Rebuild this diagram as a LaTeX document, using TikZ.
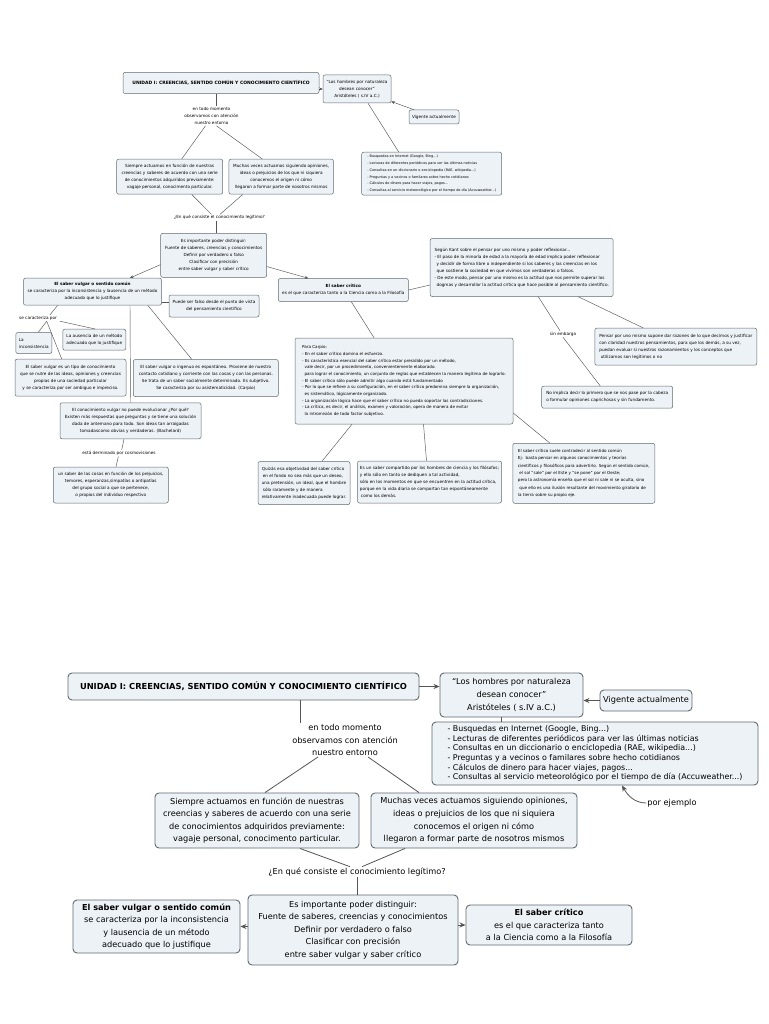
\documentclass[tikz,border=0pt]{standalone}
\usepackage{fontspec}
\setmainfont{DejaVu Sans}
\usetikzlibrary{arrows.meta,calc}
\definecolor{boxfill}{RGB}{237,242,246}
\definecolor{bord}{RGB}{96,106,114}
\definecolor{lin}{RGB}{85,85,85}
\newcommand\tfnt{\fontsize{4.2}{7}\selectfont}
\newcommand\tfntc{\fontsize{4.1}{6.7}\selectfont}
\newcommand\tfntl{\fontsize{3.45}{6.7}\selectfont}
\newcommand\tfntt{\fontsize{4.5}{5.5}\selectfont\bfseries}
\newcommand\bfnt{\fontsize{8.2}{12.6}\selectfont}
\newcommand\bfntl{\fontsize{7.9}{9.7}\selectfont}
\newcommand\bfntt{\fontsize{8.3}{10}\selectfont\bfseries}
\begin{document}
\begin{tikzpicture}[x=1pt,y=-1pt,
 tbox/.style={draw=bord, fill=boxfill, rounded corners=2pt, line width=0.5pt, inner sep=1pt, align=center, font=\tfnt},
 tlbl/.style={inner sep=1pt, align=center, font=\tfnt},
 tline/.style={draw=lin, line width=0.45pt},
 tarr/.style={tline, -{Stealth[length=3.5pt,width=3pt]}},
 bbox/.style={draw=bord, fill=boxfill, rounded corners=4pt, line width=0.9pt, inner sep=2pt, align=center, font=\bfnt},
 blbl/.style={inner sep=1pt, align=center, font=\bfnt},
 bline/.style={draw=lin, line width=0.8pt},
 barr/.style={bline, -{Stealth[length=6pt,width=5pt]}}]
\fill[white] (0,0) rectangle (768,1024);
\useasboundingbox (0,0) rectangle (768,1024);

% ================= TOP MAP =================
\node[tbox, font=\tfntt, minimum width=196pt, minimum height=21pt] (ttitle) at (221,83) {UNIDAD I: CREENCIAS, SENTIDO COMÚN Y CONOCIMIENTO CIENTÍFICO};
\node[tbox, minimum width=68pt, minimum height=28pt] (tquote) at (357,89) {“Los hombres por naturaleza\\ desean conocer”\\ Aristóteles ( s.IV a.C.)};
\node[tbox, minimum width=50pt, minimum height=14pt] (tvig) at (434,117) {Vigente actualmente};
\node[tbox, font=\tfntl, align=left, minimum width=140pt, minimum height=43pt] (tlist) at (431.7,173.7) {- Busquedas en Internet (Google, Bing...)\\ - Lecturas de diferentes periódicos para ver las últimas noticias\\ - Consultas en un diccionario o enciclopedia (RAE, wikipedia...)\\ - Preguntas y a vecinos o familares sobre hecho cotidianos\\ - Cálculos de dinero para hacer viajes, pagos...\\ - Consultas al servicio meteorológico por el tiempo de día (Accuweather...)};
\node[tlbl] (tlab) at (211.5,116) {en todo momento\\ observamos con atención\\ nuestro entorno};
\node[tbox, minimum width=106pt, minimum height=35pt] (tsiempre) at (169.7,176.7) {Siempre actuamos en función de nuestras\\ creencias y saberes de acuerdo con una serie\\ de conocimientos adquiridos previamente:\\ vagaje personal, conocimento particular.};
\node[tbox, minimum width=104.5pt, minimum height=35pt] (tmuchas) at (281.2,176.7) {Muchas veces actuamos siguiendo opiniones,\\ ideas o prejuicios de los que ni siquiera\\ conocemos el origen ni cómo\\ llegaron a formar parte de nosotros mismos};
\node[tlbl] (tq) at (219.5,217.7) {¿En qué consiste el conocimiento legítimo?};
\node[tbox, minimum width=106pt, minimum height=44pt] (timp) at (213.7,255.3) {Es importante poder distinguir:\\ Fuente de saberes, creencias y conocimientos\\ Definir por verdadero o falso\\ Clasificar con precisión\\ entre saber vulgar y saber crítico};
\node[tbox, minimum width=138pt, minimum height=27pt] (tvulgar) at (92.5,291.7) {\textbf{El saber vulgar o sentido común}\\ se caracteriza por la inconsistencia y lausencia de un método\\ adecuado que lo justifique};
\node[tbox, minimum width=130pt, minimum height=23pt] (tcritico) at (343.3,290) {\textbf{El saber crítico}\\ es el que caracteriza tanto a la Ciencia como a la Filosofía};
\node[tbox, align=left, minimum width=183pt, minimum height=58pt] (tkant) at (521.7,267.5) {Según Kant sobre el pensar por uno mismo y poder reflexionar...\\ - El paso de la minoría de edad a la mayoría de edad implica poder reflexionar\\ \hspace*{2pt}y decidir de forma libre o independiente si los saberes y las creencias en los\\ \hspace*{2pt}que sostiene la sociedad en que vivimos son verdaderas o falsos.\\ - De este modo, pensar por uno mismo es la actitud que nos permite superar los\\ \hspace*{2pt}dogmas y desarrollar la actitud crítica que hace posible al pensamiento científico.};
\node[tbox, align=left, minimum width=162pt, minimum height=37pt] (tpensar) at (675.8,346.7) {Pensar por uno mismo supone dar razones de lo que decimos y justificar\\ con claridad nuestros pensamientos, para que los demás, a su vez,\\ puedan evaluar si nuestros razonamientos y los conceptos que\\ \hspace*{1.5pt}utilizamos son legítimos o no};
\node[tbox, align=left, minimum width=131pt, minimum height=22pt] (tnoimp) at (607.2,397.2) {No implica decir lo primero que se nos pase por la cabeza\\ o formular opiniones caprichosas y sin fundamento.};
\node[tlbl] (tsin) at (563,334) {sin embargo};
\node[tbox, font=\tfntc, align=left, minimum width=218pt, minimum height=86pt] (tcarpio) at (404,381) {Para Carpio:\\ - En el saber crítico domina el esfuerzo.\\ - Es característica esencial del saber crítico estar presidido por un método,\\ \hspace*{2.5pt}vale decir, por un procedimiento, convenientemente elaborado.\\ \hspace*{2.5pt}para lograr el conocimiento, un conjunto de reglas que establecen la manera legítima de lograrlo.\\ - El saber crítico sólo puede admitir algo cuando está fundamentado\\ - Por lo que se refiere a su configuración, en el saber crítico predomina siempre la organización,\\ \hspace*{2.5pt}es sistemático, lógicamente organizado.\\ - La organización lógica hace que el saber crítico no pueda soportar las contradicciones.\\ - La crítica, es decir, el análisis, examen y valoración, opera de manera de evitar\\ \hspace*{2.5pt}la intromisión de todo factor subjetivo.};
\node[tbox, align=left, minimum width=92pt, minimum height=43pt] (tquizas) at (304,483) {Quizás esa objetividad del saber crítico\\ \hspace*{1pt}en el fondo no sea más que un deseo,\\ una pretensión, un ideal, que el hombre\\ \hspace*{1pt}sólo raramente y de manera\\ relativamente inadecuada puede lograr.};
\node[tbox, align=left, minimum width=144pt, minimum height=42pt] (tcomp) at (429.5,482) {Es un saber compartido por los hombres de ciencia y los filósofos;\\ y ello sólo en tanto se dediquen a tal actividad,\\ sólo en los momentos en que se encuentren en la actitud crítica,\\ porque en la vida diaria se comportan tan espontáneamente\\ \hspace*{1pt}como los demás.};
\node[tbox, align=left, font=\fontsize{4.1}{7.3}\selectfont, minimum width=142pt, minimum height=60pt] (tcontra) at (583.8,473.3) {El saber crítico suele contradecir al sentido común\\ Ej:\ \ basta pensar en algunos conocimientos y teorías\\ científicos y filosóficos para advertirlo. Según el sentido común,\\ \hspace*{1.5pt}el sol “sale” por el Este y “se pone” por el Oeste;\\ pero la astronomía enseña que el sol ni sale ni se oculta, sino\\ \hspace*{1.5pt}que ello es una ilusión resultante del movimiento giratorio de\\ la tierra sobre su propio eje.};
\node[tbox, minimum width=90pt, minimum height=22pt] (tpuede) at (214,306) {Puede ser falso desde el punto de vista\\ del pensamiento científico};
\node[tlbl] (tsecar) at (38,318) {se caracteriza por};
\node[tbox, align=left, minimum width=36pt, minimum height=21pt] (tincons) at (33.8,343) {La\\ inconsistencia};
\node[tbox, minimum width=63pt, minimum height=21pt] (taus) at (94.3,339.7) {La ausencia de un método\\ adecuado que lo justifique};
\node[tbox, minimum width=111pt, minimum height=37pt] (ttipo) at (70.5,377.7) {El saber vulgar es un tipo de conocimiento\\ que se nutre de las ideas, opiniones y creencias\\ propias de una sociedad particular\\ y se caracteriza por ser ambiguo e impreciso.};
\node[tbox, minimum width=145pt, minimum height=37pt] (tingenuo) at (205.8,378) {El saber vulgar o ingenuo es espontáneo. Proviene de nuestro\\ contacto cotidiano y corriente con las cosas y con las personas.\\ Se trata de un saber socialmente determinado. Es subjetivo.\\ Se caracteriza por su asistematicidad. (Carpio)};
\node[tbox, minimum width=141pt, minimum height=36pt] (tevol) at (130.5,420.8) {El conocimiento vulgar no puede evolucionar ¿Por qué?\\ Existen más respuestas que preguntas y se tiene una solución\\ dada de antemano para todo. Son ideas tan arraigadas\\ tomadascomo obvias y verdaderas. (Bachelard)};
\node[tlbl] (tdet) at (119,453.3) {está derminado por cosmovisiones};
\node[tbox, minimum width=115pt, minimum height=36pt] (tprej) at (110.8,485) {un saber de las cosas en función de los prejuicios,\\ temores, esperanzas,simpatías o antipatías\\ del grupo social a que se pertenece,\\ o propios del individuo respectivo};

% top connectors
\draw[tarr] (tquote.west -| ttitle.east) -- (tquote.west);
\draw[tarr] (tvig.160) -- (tquote.-20);
\draw[tline] ($(tquote.south)+(11,0)$) -- ($(tlist.north)+(-33,0)$);
\draw[tline] ($(ttitle.south)+(-5,0)$) -- ($(tlab.north)+(4.5,0)$);
\draw[tline] ($(tlab.south)+(-6,0)$) -- ($(tsiempre.north)+(12,0)$);
\draw[tline] ($(tlab.south)+(5,0)$) -- ($(tmuchas.north)+(-19,0)$);
\draw[tline] ($(tsiempre.south)+(22,0)$) -- ($(tq.north)+(-8,0)$);
\draw[tline] ($(tmuchas.south)+(-38.5,0)$) -- ($(tq.north)+(0.5,0)$);
\draw[tline] ($(tq.south)+(-3.5,0)$) -- ($(timp.north)+(2.3,0)$);
\draw[tarr] (timp.190) -- ($(tvulgar.north)+(37.5,0)$);
\draw[tarr] (timp.-12) -- ($(tcritico.north)+(-35,0)$);
\draw[tline] (tcritico.east) -- ($(tkant.west)+(0,17.5)$);
\draw[tline] ($(tkant.south)+(16.6,0)$) -- ($(tsin.north)+(-3,0)$);
\draw[tline] (tsin.south) -- ($(tnoimp.north)+(-7,0)$);
\draw[tline] ($(tkant.south)+(56.6,0)$) -- ($(tpensar.north)+(-32.5,0)$);
\draw[tline] ($(tcritico.south)+(8,0)$) -- ($(tcarpio.north)+(-30,0)$);
\draw[tline] ($(tcarpio.south)+(-52,0)$) -- ($(tquizas.north)+(18,0)$);
\draw[tline] ($(tcarpio.south)+(19.5,0)$) -- ($(tcomp.north)+(-3,0)$);
\draw[tline] ($(tcarpio.east)+(0,32)$) -- ($(tcontra.north)+(-34,0)$);
\draw[tline] ($(tvulgar.east)+(0,10.6)$) -- ($(tpuede.west)+(0,-3.7)$);
\draw[tline] ($(tvulgar.south)+(-35,0)$) -- ($(tsecar.north)+(12,0)$);
\draw[tline] ($(tsecar.south)+(8.7,0)$) -- ($(tincons.north)+(4.5,0)$);
\draw[tline] ($(tsecar.south)+(8.7,0)$) -- ($(ttipo.north)+(-8.8,0)$);
\draw[tline] ($(tsecar.south)+(22,0)$) -- ($(taus.north)+(0.7,0)$);
\draw[tline] ($(tvulgar.south)+(55.4,0)$) -- ($(tingenuo.north)+(-14.1,0)$);
\draw[tline] ($(tvulgar.south)+(37.5,0)$) -- (tevol.north);
\draw[tline] ($(tevol.south)+(-6.5,0)$) -- ($(tdet.north)+(2.7,0)$);
\draw[tline] ($(tdet.south)+(-0.7,0)$) -- ($(tprej.north)+(5.2,0)$);

% ================= BOTTOM (ENLARGED) =================
\node[bbox, font=\bfntt, minimum width=351pt, minimum height=27pt] (btitle) at (243.5,686.5) {UNIDAD I: CREENCIAS, SENTIDO COMÚN Y CONOCIMIENTO CIENTÍFICO};
\node[bbox, minimum width=143pt, minimum height=44pt] (bquote) at (511.5,695) {“Los hombres por naturaleza\\ desean conocer”\\ Aristóteles ( s.IV a.C.)};
\node[bbox, minimum width=92pt, minimum height=21pt] (bvig) at (646,700.5) {Vigente actualmente};
\node[bbox, font=\bfntl, align=left, minimum width=326pt, minimum height=63pt] (blist) at (595,753.5) {- Busquedas en Internet (Google, Bing...)\\ - Lecturas de diferentes periódicos para ver las últimas noticias\\ - Consultas en un diccionario o enciclopedia (RAE, wikipedia...)\\ - Preguntas y a vecinos o familares sobre hecho cotidianos\\ - Cálculos de dinero para hacer viajes, pagos...\\ - Consultas al servicio meteorológico por el tiempo de día (Accuweather...)};
\node[blbl] (bpej) at (672,803) {por ejemplo};
\node[blbl] (blab) at (345,740) {en todo momento\\ observamos con atención\\ nuestro entorno};
\node[bbox, minimum width=204pt, minimum height=55pt] (bsiempre) at (257,820.5) {Siempre actuamos en función de nuestras\\ creencias y saberes de acuerdo con una serie\\ de conocimientos adquiridos previamente:\\ vagaje personal, conocimento particular.};
\node[bbox, minimum width=206pt, minimum height=55pt] (bmuchas) at (474,820.5) {Muchas veces actuamos siguiendo opiniones,\\ ideas o prejuicios de los que ni siquiera\\ conocemos el origen ni cómo\\ llegaron a formar parte de nosotros mismos};
\node[blbl] (bq) at (357,872) {¿En qué consiste el conocimiento legítimo?};
\node[bbox, minimum width=210pt, minimum height=70pt] (bimport) at (353,930) {Es importante poder distinguir:\\ Fuente de saberes, creencias y conocimientos\\ Definir por verdadero o falso\\ Clasificar con precisión\\ entre saber vulgar y saber crítico};
\node[bbox, minimum width=167pt, minimum height=53pt] (bvulgar) at (156.5,926.5) {\textbf{El saber vulgar o sentido común}\\ se caracteriza por la inconsistencia\\ y lausencia de un método\\ adecuado que lo justifique};
\node[bbox, minimum width=166pt, minimum height=40pt] (bcritico) at (549,925) {\textbf{El saber crítico}\\ es el que caracteriza tanto\\ a la Ciencia como a la Filosofía};

% bottom connectors
\draw[barr] (btitle.east) -- (btitle.east -| bquote.west);
\draw[barr] (bvig.west) -- (bvig.west -| bquote.east);
\draw[bline] ($(bquote.south)+(-10,0)$) -- ($(blist.north)+(-93.5,0)$);
\draw[barr] (bpej.west) to[out=180,in=-60] ($(blist.south)+(27,0)$);
\draw[bline] ($(btitle.south)+(56.5,0)$) -- ($(blab.north)+(-45,0)$);
\draw[bline] ($(blab.south)+(-27,0)$) -- ($(bsiempre.north)+(8,0)$);
\draw[bline] ($(blab.south)+(23,0)$) -- ($(bmuchas.north)+(-55,0)$);
\draw[bline] ($(bsiempre.south)+(43,0)$) -- ($(bq.north)+(-7,0)$);
\draw[bline] ($(bmuchas.south)+(-69,0)$) -- ($(bq.north)+(5,0)$);
\draw[bline] (bq.south) -- (bq.south |- bimport.north);
\draw[barr] (bvulgar.east -| bimport.west) -- (bvulgar.east);
\draw[barr] (bcritico.west -| bimport.east) -- (bcritico.west);
\end{tikzpicture}
\end{document}
